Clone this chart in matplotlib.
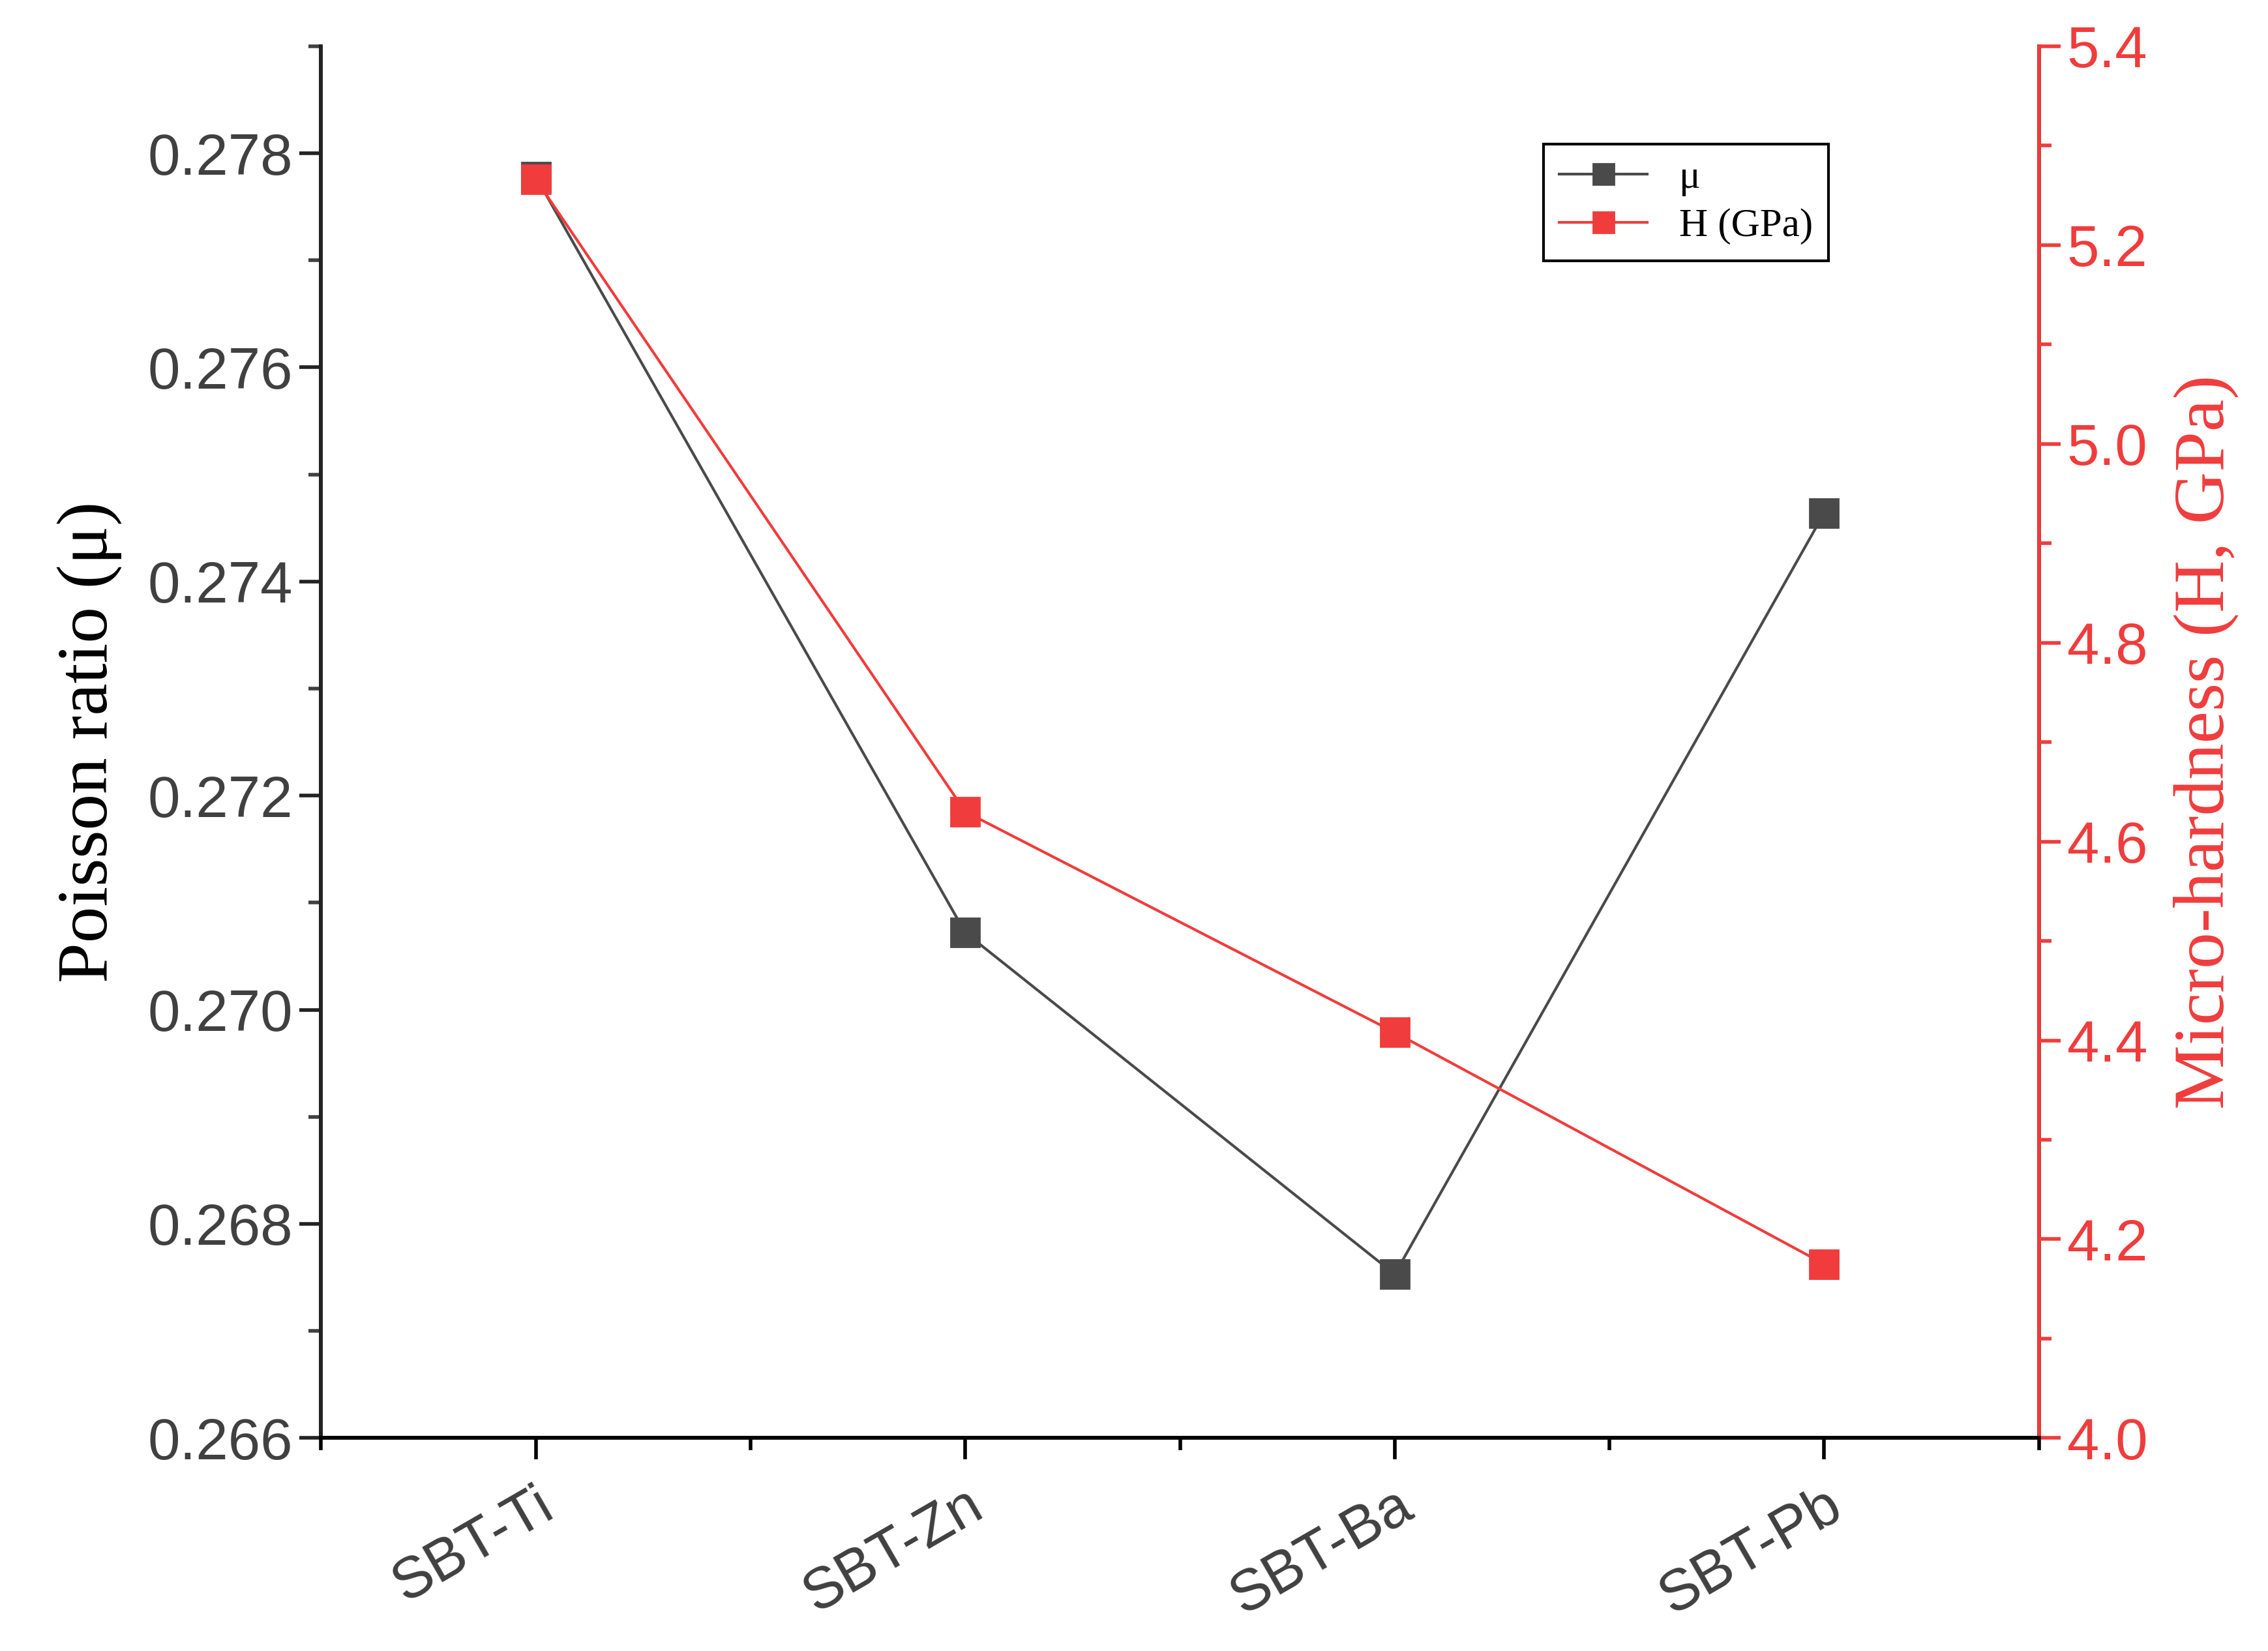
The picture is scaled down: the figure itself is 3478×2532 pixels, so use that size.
import matplotlib.pyplot as plt
from matplotlib.ticker import MultipleLocator

samples = ['SBT-Ti', 'SBT-Zn', 'SBT-Ba', 'SBT-Pb']
poisson = [0.27778, 0.27072, 0.26753, 0.27464]
hardness = [5.266, 4.63, 4.408, 4.175]

black = '#4a4a4a'
red = '#f03c3c'

fig = plt.figure(figsize=(17.39, 12.66), dpi=200)
ax = fig.add_axes([0.1416, 0.129, 0.7574, 0.843])
ax2 = ax.twinx()

x = range(len(samples))
l1, = ax.plot(x, poisson, color=black, lw=1.5, marker='s', ms=16, label='μ')
l2, = ax2.plot(x, hardness, color=red, lw=1.5, marker='s', ms=16, label='H (GPa)')

ax.set_xlim(-0.5, 3.5)
ax.set_ylim(0.266, 0.279)
ax2.set_ylim(4.0, 5.4)

ax.set_xticks(list(x))
ax.set_xticklabels(samples, rotation=30, ha='right', rotation_mode='anchor',
                   fontname='Liberation Sans', fontsize=32, color='#404040')
ax.xaxis.set_minor_locator(MultipleLocator(0.5))
ax.yaxis.set_major_locator(MultipleLocator(0.002))
ax.yaxis.set_minor_locator(MultipleLocator(0.001))
ax2.yaxis.set_major_locator(MultipleLocator(0.2))
ax2.yaxis.set_minor_locator(MultipleLocator(0.1))

ax.tick_params(axis='x', which='both', direction='out', width=2, pad=10)
ax.tick_params(axis='x', which='major', length=12)
ax.tick_params(axis='x', which='minor', length=7)
ax.tick_params(axis='y', which='both', direction='out', width=2, colors='#404040', labelsize=32)
ax.tick_params(axis='y', which='major', length=12)
ax.tick_params(axis='y', which='minor', length=7)
ax2.tick_params(axis='y', which='both', direction='out', width=2, colors=red, labelsize=32)
ax2.tick_params(axis='y', which='major', length=12)
ax2.tick_params(axis='y', which='minor', length=7)
ax.tick_params(axis='y', colors='#222222', labelcolor='#404040')
for t in ax.get_yticklabels() + ax2.get_yticklabels():
    t.set_fontname('Liberation Sans')

for a in (ax, ax2):
    for s in a.spines.values():
        s.set_linewidth(2)
    a.spines['top'].set_visible(False)
ax2.spines['right'].set_color(red)
ax2.spines['left'].set_color('#222222')

ax.set_ylabel('Poisson ratio (μ)', fontname='Liberation Serif', fontsize=40, color='black', labelpad=14)
ax2.set_ylabel('Micro-hardness (H, GPa)', fontname='Liberation Serif', fontsize=40, color=red, labelpad=14)

leg = ax.legend(handles=[l1, l2], loc='upper left', bbox_to_anchor=(0.700, 0.944),
                prop={'family': 'Liberation Serif', 'size': 22}, fancybox=False,
                edgecolor='black', framealpha=1, handlelength=2.2, borderpad=0.4,
                markerscale=0.7, labelspacing=0.3)
leg.get_frame().set_linewidth(1.5)

fig.savefig('out.png', dpi=200)
